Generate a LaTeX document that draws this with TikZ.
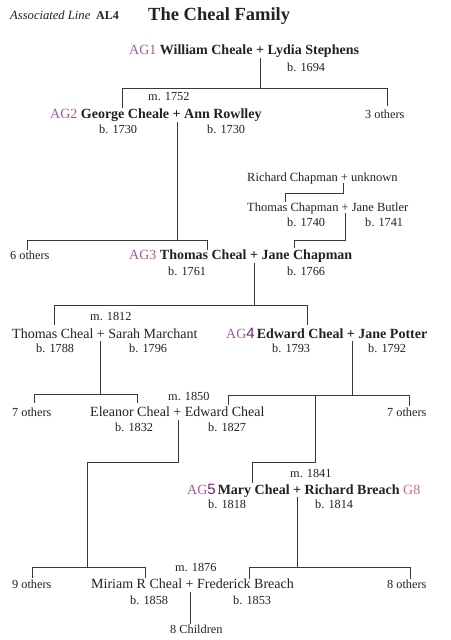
\documentclass[tikz,border=0pt]{standalone}
\usepackage{fontspec}
\setmainfont{Liberation Serif}
\newfontfamily\digitsans{Liberation Sans}
\definecolor{agc}{HTML}{A85A9A}
\definecolor{agd}{HTML}{7A1F7A}
\definecolor{gpink}{HTML}{D86A80}
\definecolor{ink}{HTML}{222222}
\begin{document}
\begin{tikzpicture}[x=1pt,y=-1pt,
  lbl/.style={inner sep=0pt,anchor=base west,text=ink},
  nm/.style={lbl,font=\fontsize{14}{16}\selectfont},
  sm/.style={lbl,font=\fontsize{12.3}{14}\selectfont},
  chp/.style={lbl,font=\fontsize{12.5}{14}\selectfont},
  link/.style={draw=ink!90,line width=0.8pt}]
\useasboundingbox[fill=white] (0,0) rectangle (450,640);

% header
\node[lbl,font=\fontsize{12.6}{14}\selectfont\itshape] (assoc) at (10,19.3) {Associated Line};
\node[lbl,font=\fontsize{12}{14}\selectfont\bfseries] (al4) at (96,19.3) {AL4};
\node[lbl,font=\fontsize{18.5}{20}\selectfont\bfseries] (title) at (148,20.7) {The Cheal Family};

% generation 1
\node[nm] (ag1) at (129,54.5) {\textcolor{agc}{AG1} \textbf{William Cheale + Lydia Stephens}};
\node[sm] (b1694) at (287,71) {b. 1694};

% generation 2
\node[sm] (m1752) at (148,100) {m. 1752};
\node[nm] (ag2) at (50,118.3) {\textcolor{agc}{AG2} \textbf{George Cheale + Ann Rowlley}};
\node[sm] (oth3) at (365,118.5) {3 others};
\node[sm] (b1730a) at (99,133.3) {b. 1730};
\node[sm] (b1730b) at (207,133.3) {b. 1730};

% Chapman
\node[chp] (rich) at (247,181) {Richard Chapman + unknown};
\node[chp] (tchap) at (247,211) {Thomas Chapman + Jane Butler};
\node[sm] (b1740) at (287,226) {b. 1740};
\node[sm] (b1741) at (365,226) {b. 1741};

% generation 3
\node[sm] (oth6) at (10,259) {6 others};
\node[nm] (ag3) at (129,259) {\textcolor{agc}{AG3} \textbf{Thomas Cheal + Jane Chapman}};
\node[sm] (b1761) at (168,275) {b. 1761};
\node[sm] (b1766) at (287,275) {b. 1766};

% generation 4
\node[sm] (m1812) at (90,320) {m. 1812};
\node[nm] (tcheal) at (12,338) {Thomas Cheal + Sarah Marchant};
\node[nm] (ag4) at (226,338) {\textcolor{agc}{AG}{\digitsans\fontsize{15}{16}\selectfont\textcolor{agd}{4}}\hspace{2pt}\textbf{Edward Cheal + Jane Potter}};
\node[sm] (b1788) at (36,352) {b. 1788};
\node[sm] (b1796) at (129,352) {b. 1796};
\node[sm] (b1793) at (272,352) {b. 1793};
\node[sm] (b1792) at (368,352) {b. 1792};

% generation 5 (Eleanor)
\node[sm] (m1850) at (168,400) {m. 1850};
\node[sm] (oth7a) at (12,416.5) {7 others};
\node[nm] (elea) at (90,416.5) {Eleanor Cheal + Edward Cheal};
\node[sm] (oth7b) at (387,416.5) {7 others};
\node[sm] (b1832) at (115,431) {b. 1832};
\node[sm] (b1827) at (208,431) {b. 1827};

% AG5
\node[sm] (m1841) at (290,477) {m. 1841};
\node[nm] (ag5) at (187,494) {\textcolor{agc}{AG}{\digitsans\fontsize{15}{16}\selectfont\textcolor{agd}{5}}\hspace{2pt}\textbf{Mary Cheal + Richard Breach} \textcolor{gpink}{G8}};
\node[sm] (b1818) at (208,508.3) {b. 1818};
\node[sm] (b1814) at (315,508.3) {b. 1814};

% last generation
\node[sm] (m1876) at (175,571) {m. 1876};
\node[sm] (oth9) at (12,588.3) {9 others};
\node[nm] (miri) at (91,588.3) {Miriam R Cheal + Frederick Breach};
\node[sm] (oth8) at (387,588.3) {8 others};
\node[sm] (b1858) at (130,604.3) {b. 1858};
\node[sm] (b1853) at (233,604.3) {b. 1853};
\node[sm] (kids) at (170,633.3) {8 Children};

% connector points
\coordinate (p1) at (260,58);   \coordinate (j1) at (260,88);
\coordinate (j1l) at (122,88);  \coordinate (c1l) at (122,108);
\coordinate (j1r) at (387,88);  \coordinate (c1r) at (387,106);

\coordinate (p2) at (177,122);  \coordinate (j2) at (177,240);
\coordinate (j2l) at (27,240);  \coordinate (c2l) at (27,250);
\coordinate (j2r) at (207,240); \coordinate (c2r) at (207,250);

\coordinate (pr) at (343,183);  \coordinate (jr) at (343,193);
\coordinate (jrl) at (285,193); \coordinate (crl) at (285,202);

\coordinate (pt) at (345,213);  \coordinate (jt) at (345,240);
\coordinate (jtl) at (294,240); \coordinate (ctl) at (294,248);

\coordinate (p3) at (254,263);  \coordinate (j3) at (254,305);
\coordinate (j3l) at (54,305);  \coordinate (c3l) at (54,325);
\coordinate (j3r) at (307,305); \coordinate (c3r) at (307,325);

\coordinate (p4) at (100,341);  \coordinate (j4) at (100,394);
\coordinate (j4l) at (34,394);  \coordinate (c4l) at (34,403);
\coordinate (j4r) at (137,394); \coordinate (c4r) at (137,403);

\coordinate (p5) at (352,341);  \coordinate (j5) at (352,395);
\coordinate (j5l) at (228,395); \coordinate (c5l) at (228,405);
\coordinate (j5r) at (409,395); \coordinate (c5r) at (409,406);
\coordinate (j5m) at (315,395); \coordinate (k5) at (315,462);
\coordinate (k5l) at (252,462); \coordinate (c5m) at (252,483);

\coordinate (p6) at (178,420);  \coordinate (k6) at (178,462);
\coordinate (k6l) at (87,462);  \coordinate (j6) at (87,567);
\coordinate (j6l) at (32,567);  \coordinate (c6l) at (32,578);
\coordinate (j6r) at (145,567); \coordinate (c6r) at (145,578);

\coordinate (p7) at (297,497);  \coordinate (j7) at (297,567);
\coordinate (j7l) at (249,567); \coordinate (c7l) at (249,579);
\coordinate (j7r) at (410,567); \coordinate (c7r) at (410,579);

\coordinate (p8) at (190,592);  \coordinate (c8) at (190,624);

% connectors
\draw[link] (p1) -- (j1);
\draw[link] (c1l) -- (j1l) -- (j1r) -- (c1r);
\draw[link] (p2) -- (j2);
\draw[link] (c2l) -- (j2l) -- (j2r) -- (c2r);
\draw[link] (pr) -- (jr) -- (jrl) -- (crl);
\draw[link] (pt) -- (jt) -- (jtl) -- (ctl);
\draw[link] (p3) -- (j3);
\draw[link] (c3l) -- (j3l) -- (j3r) -- (c3r);
\draw[link] (p4) -- (j4);
\draw[link] (c4l) -- (j4l) -- (j4r) -- (c4r);
\draw[link] (p5) -- (j5);
\draw[link] (c5l) -- (j5l) -- (j5r) -- (c5r);
\draw[link] (j5m) -- (k5) -- (k5l) -- (c5m);
\draw[link] (p6) -- (k6) -- (k6l) -- (j6);
\draw[link] (c6l) -- (j6l) -- (j6r) -- (c6r);
\draw[link] (p7) -- (j7);
\draw[link] (c7l) -- (j7l) -- (j7r) -- (c7r);
\draw[link] (p8) -- (c8);
\end{tikzpicture}
\end{document}
